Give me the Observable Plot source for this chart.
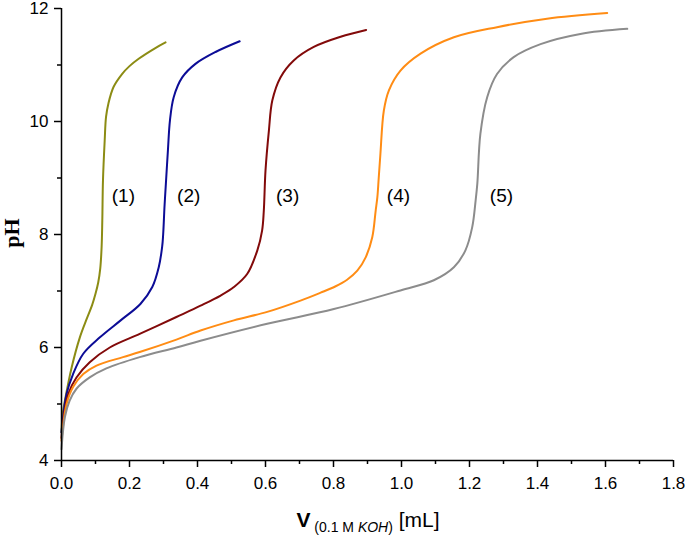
<!DOCTYPE html>
<html>
<head>
<meta charset="utf-8">
<script src="https://cdn.jsdelivr.net/npm/d3@7"></script>
<script src="https://cdn.jsdelivr.net/npm/@observablehq/plot@0.6"></script>
<style>
  body { margin: 0; background: #fff; }
  #chart svg { display: block; }
</style>
</head>
<body>
<div id="chart"></div>
<script>
// ---- data ----
const seriesNames = ["(1)", "(2)", "(3)", "(4)", "(5)"];
const seriesColors = ["#8c8c14", "#0c0c96", "#820a0a", "#ff8c14", "#8c8c8c"];

const v1 = [0, 0.004, 0.010, 0.030, 0.054, 0.075, 0.090, 0.100, 0.108, 0.114, 0.118, 0.120, 0.122, 0.127, 0.131, 0.138, 0.153, 0.178, 0.200, 0.227, 0.276, 0.306];
const pH1 = [4.5, 4.85, 5.06, 5.65, 6.18, 6.52, 6.75, 6.95, 7.15, 7.40, 7.78, 8.25, 8.96, 9.66, 10.08, 10.32, 10.61, 10.84, 10.98, 11.11, 11.30, 11.40];

const v2 = [0, 0.015, 0.034, 0.064, 0.113, 0.174, 0.232, 0.267, 0.286, 0.296, 0.299, 0.303, 0.307, 0.313, 0.319, 0.330, 0.355, 0.394, 0.453, 0.524];
const pH2 = [4.5, 5.18, 5.53, 5.89, 6.18, 6.48, 6.77, 7.07, 7.42, 7.78, 8.0, 8.5, 8.9, 9.49, 10.02, 10.43, 10.78, 11.02, 11.23, 11.42];

const v3 = [0, 0.005, 0.020, 0.044, 0.083, 0.142, 0.230, 0.338, 0.409, 0.468, 0.507, 0.546, 0.576, 0.590, 0.595, 0.600, 0.610, 0.620, 0.644, 0.683, 0.742, 0.821, 0.896];
const pH3 = [4.4, 4.71, 5.18, 5.47, 5.74, 6.0, 6.24, 6.54, 6.74, 6.92, 7.07, 7.30, 7.72, 8.07, 8.42, 9.13, 9.84, 10.37, 10.78, 11.08, 11.32, 11.50, 11.62];

const v4 = [0, 0.015, 0.034, 0.064, 0.103, 0.181, 0.230, 0.338, 0.409, 0.507, 0.605, 0.703, 0.762, 0.805, 0.840, 0.870, 0.895, 0.914, 0.924, 0.929, 0.933, 0.938, 0.948, 0.963, 0.997, 1.056, 1.154, 1.281, 1.428, 1.605];
const pH4 = [4.35, 5.0, 5.30, 5.53, 5.68, 5.83, 5.92, 6.14, 6.30, 6.48, 6.63, 6.83, 6.97, 7.08, 7.20, 7.36, 7.60, 7.95, 8.42, 8.66, 9.0, 9.43, 10.19, 10.55, 10.90, 11.20, 11.49, 11.67, 11.82, 11.92];

const v5 = [0, 0.010, 0.024, 0.044, 0.083, 0.132, 0.230, 0.338, 0.409, 0.605, 0.801, 0.997, 1.095, 1.154, 1.188, 1.208, 1.218, 1.223, 1.232, 1.252, 1.281, 1.330, 1.409, 1.526, 1.664];
const pH5 = [4.2, 4.77, 5.06, 5.27, 5.47, 5.63, 5.83, 6.0, 6.12, 6.42, 6.68, 7.01, 7.19, 7.42, 7.72, 8.13, 8.60, 8.90, 9.78, 10.43, 10.84, 11.14, 11.37, 11.55, 11.64];

const labelV = [0.182, 0.374, 0.665, 0.991, 1.294];
const labelPH = [8.69, 8.69, 8.69, 8.69, 8.69];

const xTicks = [0, 0.2, 0.4, 0.6, 0.8, 1.0, 1.2, 1.4, 1.6, 1.8];
const xMinorTicks = [0.1, 0.3, 0.5, 0.7, 0.9, 1.1, 1.3, 1.5, 1.7];
const yTicks = [4, 6, 8, 10, 12];
const yMinorTicks = [5, 7, 9, 11];

// ---- build table ----
const allV = [v1, v2, v3, v4, v5];
const allPH = [pH1, pH2, pH3, pH4, pH5];
const rows = [];
allV.forEach((vs, i) => vs.forEach((v, j) => rows.push({series: seriesNames[i], v, pH: allPH[i][j]})));
const labels = seriesNames.map((s, i) => ({series: s, v: labelV[i], pH: labelPH[i]}));

const font = "'Liberation Sans', Arial, sans-serif";

const plot = Plot.plot({
  width: 685,
  height: 535,
  marginLeft: 61,
  marginRight: 12,
  marginTop: 8,
  marginBottom: 75,
  style: {fontFamily: font, fontSize: "17px", color: "#000", background: "#fff"},
  x: {domain: [0, 1.8]},
  y: {domain: [4, 12]},
  color: {domain: seriesNames, range: seriesColors},
  marks: [
    Plot.line(rows, {x: "v", y: "pH", z: "series", stroke: "series", strokeWidth: 2, curve: "catmull-rom"}),
    Plot.text(labels, {x: "v", y: "pH", text: "series", fontSize: 19, fill: "#000"}),
    Plot.axisX({ticks: xTicks, tickSize: 7, tickPadding: 9, tickFormat: d => d.toFixed(1), label: null, fontSize: 17, strokeWidth: 1.5}),
    Plot.axisX({ticks: xMinorTicks, tickSize: 4, tickFormat: () => "", label: null, strokeWidth: 1.5}),
    Plot.axisY({ticks: yTicks, tickSize: 7, tickPadding: 6, tickFormat: d => String(d), label: null, fontSize: 17, strokeWidth: 1.5}),
    Plot.axisY({ticks: yMinorTicks, tickSize: 4, tickFormat: () => "", label: null, strokeWidth: 1.5}),
    Plot.ruleX([0], {stroke: "#000", strokeWidth: 1.5}),
    Plot.ruleY([4], {stroke: "#000", strokeWidth: 1.5})
  ]
});

document.getElementById("chart").appendChild(plot);

// axis titles as real text
const svg = d3.select(plot);
svg.append("text")
  .attr("transform", "translate(19,233) rotate(-90)")
  .attr("text-anchor", "middle")
  .attr("font-family", "'Liberation Serif', 'Times New Roman', serif")
  .attr("font-weight", "bold")
  .attr("font-size", 22)
  .attr("fill", "#000")
  .text("pH");

const xt = svg.append("text")
  .attr("x", 368)
  .attr("y", 527)
  .attr("text-anchor", "middle")
  .attr("font-family", font)
  .attr("fill", "#000");
xt.append("tspan").attr("font-weight", "bold").attr("font-size", 21).text("V");
xt.append("tspan").attr("font-size", 14).attr("dy", 5).text(" (0.1 M ");
xt.append("tspan").attr("font-size", 14).attr("font-style", "italic").text("KOH");
xt.append("tspan").attr("font-size", 14).text(")");
xt.append("tspan").attr("font-size", 21).attr("dy", -5).text(" [mL]");
</script>
</body>
</html>
